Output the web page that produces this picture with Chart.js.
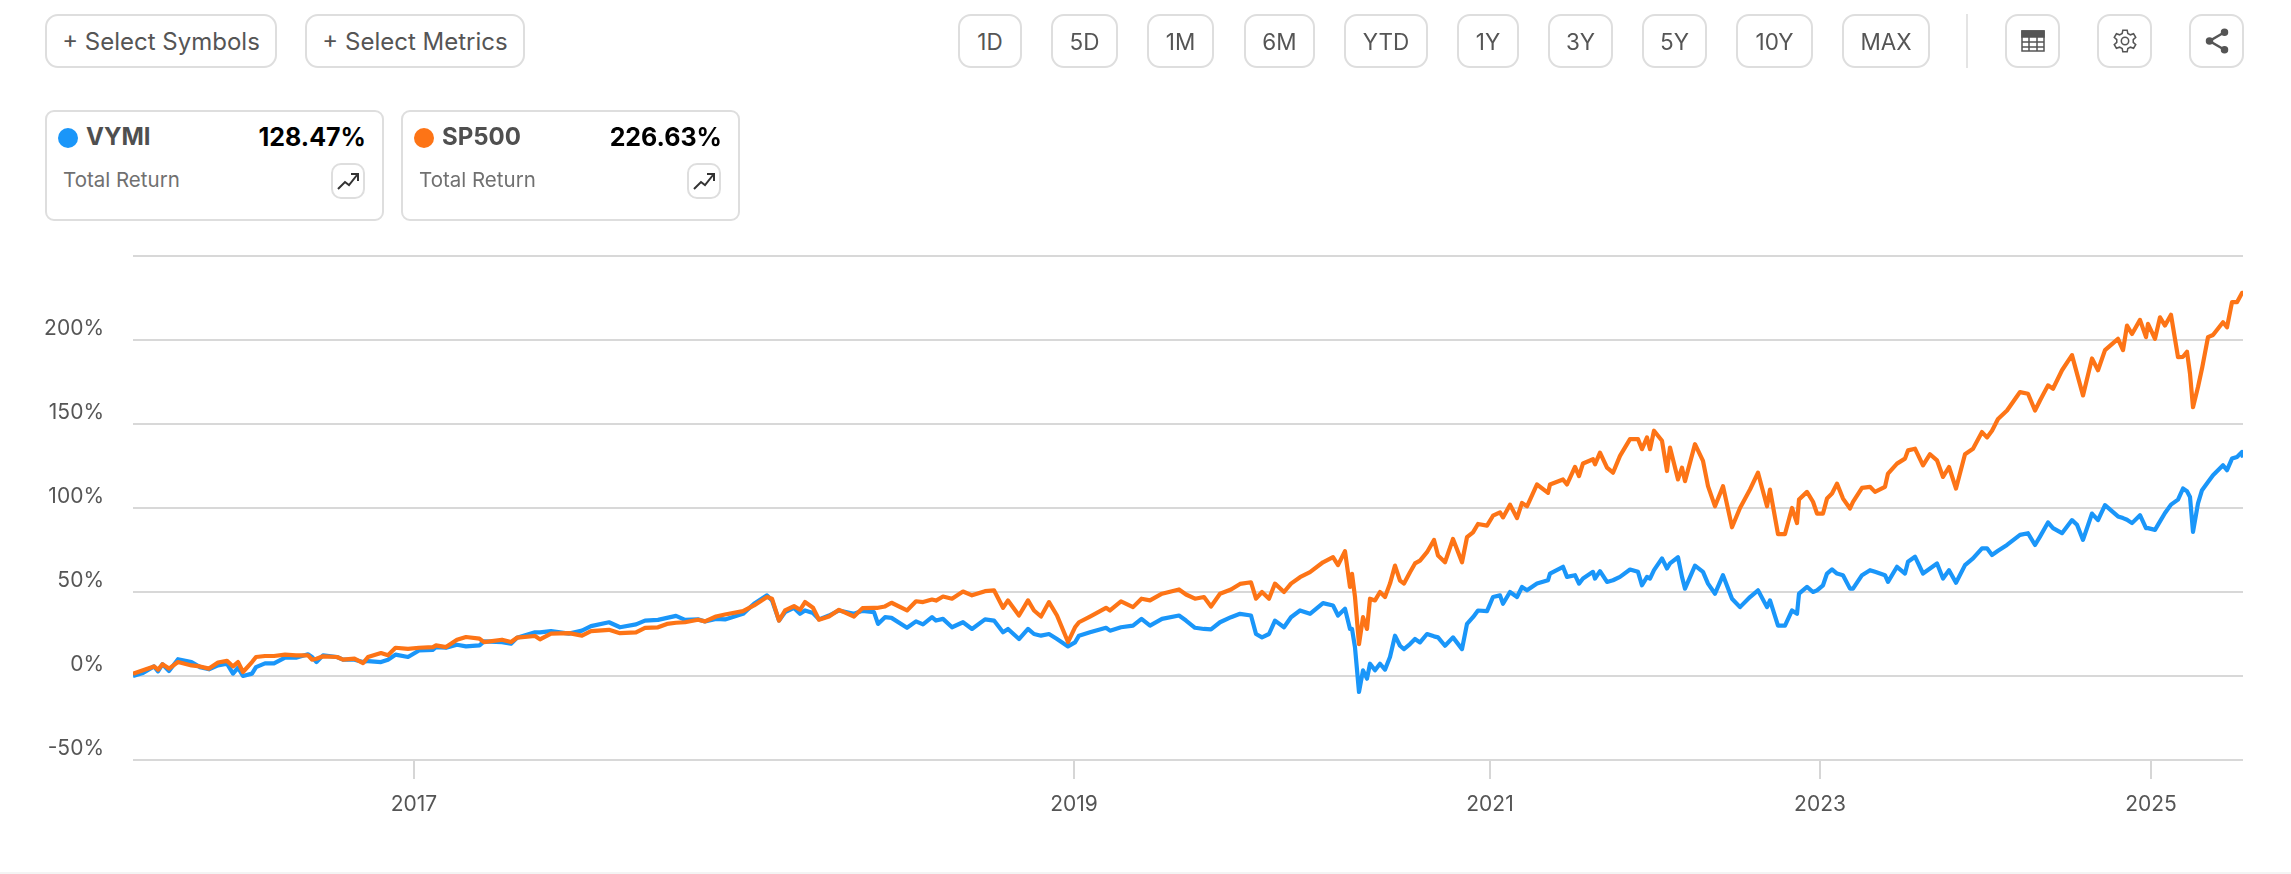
<!DOCTYPE html>
<html>
<head>
<meta charset="utf-8">
<title>VYMI vs SP500</title>
<script src="https://cdn.jsdelivr.net/npm/chart.js@4/dist/chart.umd.min.js"></script>
<style>
html, body { margin: 0; padding: 0; background: #fff; }
body { width: 2291px; height: 874px; position: relative; overflow: hidden; font-family: Inter, "Noto Sans", sans-serif; color: #555; }
#chart { position: absolute; left: 0; top: 0; }
.btn { position: absolute; top: 14px; height: 54px; box-sizing: border-box; border: 2px solid #dedede; border-radius: 13px; display: flex; align-items: center; justify-content: center; font-size: 22.5px; background: #fff; }
.big { font-size: 24px; }
.sep { position: absolute; left: 1966px; top: 14px; width: 2px; height: 54px; background: #e4e4e4; }
.rule { position: absolute; left: 0; top: 872px; width: 2291px; height: 2px; background: #f4f4f4; }
.card { position: absolute; top: 110px; height: 111px; box-sizing: border-box; border: 2px solid #dedede; border-radius: 9px; background: #fff; }
.dot { position: absolute; top: 16px; width: 20px; height: 20px; border-radius: 50%; }
.sym { position: absolute; top: 10px; font-size: 24px; font-weight: 700; color: #4f4f4f; }
.val { position: absolute; top: 10px; font-size: 25px; font-weight: 700; color: #000; }
.sub { position: absolute; top: 55px; font-size: 20.500px; color: #707070; }
.trend { position: absolute; top: 51px; width: 34px; height: 36px; box-sizing: border-box; border: 2px solid #dedede; border-radius: 10px; display: flex; align-items: center; justify-content: center; }
</style>
</head>
<body>
<canvas id="chart" width="2291" height="874"></canvas>
<div class="rule"></div>

<div class="btn big" style="left:45px;width:232px">+ Select Symbols</div>
<div class="btn big" style="left:305px;width:220px">+ Select Metrics</div>

<div class="btn" style="left:958px;width:64px">1D</div>
<div class="btn" style="left:1051px;width:67px">5D</div>
<div class="btn" style="left:1147px;width:67px">1M</div>
<div class="btn" style="left:1244px;width:71px">6M</div>
<div class="btn" style="left:1344px;width:84px">YTD</div>
<div class="btn" style="left:1457px;width:62px">1Y</div>
<div class="btn" style="left:1548px;width:65px">3Y</div>
<div class="btn" style="left:1642px;width:65px">5Y</div>
<div class="btn" style="left:1736px;width:77px">10Y</div>
<div class="btn" style="left:1842px;width:88px">MAX</div>
<div class="sep"></div>
<div class="btn" style="left:2005px;width:55px">
  <svg width="24" height="24" viewBox="0 0 24 24" fill="none" stroke="#555" stroke-width="1.5"><rect x="1" y="2" width="22" height="20"/><rect x="1" y="2" width="22" height="6" fill="#555"/><path d="M1 13h22M1 18h22M8 8v14M16 8v14"/></svg>
</div>
<div class="btn" style="left:2097px;width:55px">
  <svg width="26" height="26" viewBox="0 0 24 24" fill="none" stroke="#555" stroke-width="1.4"><circle cx="12" cy="12" r="3.4"/><path d="M10 2h4l.6 3 2.4 1.3 2.9-1 2 3.4-2.3 2 0 2.6 2.3 2-2 3.4-2.9-1-2.4 1.3-.6 3h-4l-.6-3-2.4-1.3-2.9 1-2-3.4 2.3-2 0-2.6-2.3-2 2-3.4 2.9 1L9.400 5z"/></svg>
</div>
<div class="btn" style="left:2189px;width:55px">
  <svg width="30" height="30" viewBox="0 0 24 24" fill="#555" stroke="#555" stroke-width="2"><path d="M18 5L6 12l12 7" fill="none"/><circle cx="18" cy="5" r="2"/><circle cx="6" cy="12" r="2"/><circle cx="18" cy="19" r="2"/></svg>
</div>

<div class="card" style="left:45px;width:339px">
  <div class="dot" style="left:11px;background:#1a96f9"></div>
  <div class="sym" style="left:39px">VYMI</div>
  <div class="val" style="right:16px">128.47%</div>
  <div class="sub" style="left:16px">Total Return</div>
  <div class="trend" style="right:17px"><svg width="24" height="24" viewBox="0 0 24 24" fill="none" stroke="#333" stroke-width="2"><path d="M2 20l7-7 4 3 8-10M15 5h7v7"/></svg></div>
</div>
<div class="card" style="left:401px;width:339px">
  <div class="dot" style="left:11px;background:#fd7416"></div>
  <div class="sym" style="left:39px">SP500</div>
  <div class="val" style="right:16px">226.63%</div>
  <div class="sub" style="left:16px">Total Return</div>
  <div class="trend" style="right:17px"><svg width="24" height="24" viewBox="0 0 24 24" fill="none" stroke="#333" stroke-width="2"><path d="M2 20l7-7 4 3 8-10M15 5h7v7"/></svg></div>
</div>

<script>
const sessions = [0,10,21,25,29.5,36,45,58.5,67,76,85,94,100,105,110,119,123,132,141,152,163,175,179,183.5,190,204,210,221.5,230,235,248,255,262.5,275,286,300,303,313,324,333,346.5,351,369,378,384,402,407,418,436,449,458,476,487,503,512,525,534,543,552,565,572,583,592,610,621,634,639,646,652,661,
  667,672,680,686,696,706,721,729.5,741,745,752,758.5,774,783,790,799,803,810,819,830,839,852,861,870,875,886,895,901,908,916,924,935,942,946,957,973,977,988,1000,1008.5,1017,1029,1046,1053,1062,1071,1078,1087,1098,1107,1118,1123,1129,1136,1142,1151,1158,
  1167,1177,1190,1200,1205,1212,1217,1219,1222,1226,1230,1234,1237,1242,1247,1252,1257,1262,1267,1271,1277,1282,1287,1294,1301,1305,1312,1320,1329,1334,1340,1345,1354,1360,1367,1370,1377,1384,1389,1394,1404,1415,1417,1430,1434,1442,1446,1450,1460,1462,1467,1474,1480,1487,1497,1505,1509,1514,1517,1521,1529,1534,1537,1545,1549,1552,1562,1570,1575,1582,1590,1599,1607,1617,1625,1634,1637,1645,1652,
  1659,1664,1666,1674,1680,1684,1690,1694,1699,1704,1710,1717,1720,1729,1737,1742,1752,1755,1764,1772,1775,1782,1790,1797,1804,1810,1816,1823,1832,1840,1849,1854,1859,1865,1874,1887,1895,1902,1907,1915,1920,1929,1939,1944,1950,1959,1965,1972,1985,1990,1994,1999,2007,2013,2015,2022,2027,2032,2038,2045,2050,2054,2057,2060,2065,2069,2075,2080,2090,2094,2099,2104,2109,2110];

const sp500 = [1.4,3.4,5.7,3.8,7,4.4,8.3,6.3,5.7,4.4,8,9,5.7,8.3,2.4,8.3,11.3,11.9,11.9,12.7,12.3,12.3,9.7,10.3,11.7,11.3,9.7,10.3,7.7,11.3,13.7,12.3,16.8,16.2,16.8,17.2,18.2,17.2,21.6,23.2,22.2,20.2,21.6,20.2,22.8,23.8,21.8,25.2,25.5,24,26.7,27.5,25.5,26,28.7,29,31,31.7,32,33.5,32.5,35.4,36.6,38.6,42,47,46,33,39,41.6,
  39.4,44,40.6,33.5,35.4,39.4,35.4,40.4,40.6,40.6,41.4,43.6,39,44.5,44,45.5,44.9,47.3,46,50.3,48,50.5,51,40.6,45,36,45,39,35.4,44,36,20.2,29,32,35.4,40.6,39,44.4,41,46,45,49,51.5,48.5,46,47,41.4,49,51.5,54.8,55.8,46,50,46,55,50,55,
  58.8,61.8,67.7,70.7,66,74.3,53,60.8,47,19,35,28,46,45,50,47,55,65.7,56.8,55,61.8,67,68.7,73.7,81,71.7,67.7,81.6,67.7,82.6,85.5,90.5,89.5,95.4,97.4,94.4,102,94,103,101,114,109,114,117,114,124.5,119,126.5,129,126,133,124,121,131,141,141,135,142,135,146,140,122,136,117,124,116,138,128,113,101,113,88.5,100,111,121,101,111,84.5,84.5,
  100,91,105,109.6,103.7,96.7,96.7,105.6,108.6,114.5,105.6,99.7,103.7,112,112.6,109.6,112.6,120.5,126.4,129.4,134.3,135.3,125.4,132,128.4,118.5,124.4,111.6,132,135.3,145.2,142,146,153,158,169,168,158,164,173,171,182,191,180,167,189,182,194,200.7,194,208.6,203.6,212,201.7,209.6,200.7,213.5,208.6,215,189.8,190,193,180,160,172,183,201.7,203,210.6,207.6,222.5,222.5,228,228];

const vymi = [0,1.8,5.7,2.8,7,3,10,8.3,5.3,4,6.3,7.3,1.4,5,0,1.4,5.3,7.5,7.5,10.9,10.9,12.9,11.3,8.3,12.3,11.3,9.7,9.7,8.3,8.9,8.3,9.7,12.7,11.3,15.2,15.6,17.2,16.8,18.6,17.6,18.2,20.6,20.2,19.2,22.8,26,26,26.7,25.2,27,29.7,32,29,30.7,33,33.4,34.6,35.8,33.4,33.7,32.5,34,33.7,37,43,48,45,33,38,40.5,
  37,39,37.5,33.7,36,39,37,38.8,38,31,35,34.6,28.7,32.5,30.7,35,33,34,29,32,28,33.7,33,26,28,22,28,25,24,25,22,17.6,20,24,26,28.7,27,29,30,34,30,34,36,33,28.7,28,27.7,32,35,37,36,25,23,25,33,29,35,
  39,37,43.4,42,36,40,28,28,17,-9.5,3.4,-1.6,7.3,3.4,7.3,3.8,11.3,24,18,16,19,22,20,25,23.6,23,18,23,16,31,35,39,38.6,47,48,43,50,47,53,51,55,57,61,65,59,60,55,58,62,58,62.4,56,57,59,63.4,62,54,59,58,63,70,64,67,70.7,59,52,65.7,62,55,49,60,46,41,47,51,41,45,30,30,
  39,37,49,53,50,51,54,61,63.5,61,60,52,52,60,63,62,60,56,65,61,68,71,61,64,67,58,63,55.5,66,70,76,76,72,74.5,78,84,85,78,83,91.4,88,85,92.8,90,81,96.7,92.8,101.7,95,94,93,91,95.7,88,88,87,92,97,102,105,111.6,110,106.6,85.8,102.7,110.6,115.5,119.5,125.4,122.5,129.4,130.4,133.4,130];

const yearTicks = [281,941,1357,1687,2018];
const yearLabels = ['2017','2019','2021','2023','2025'];

const toPoints = (ys) => ys.map((y, i) => ({ x: sessions[i], y: y }));

new Chart(document.getElementById('chart'), {
  type: 'line',
  data: {
    datasets: [
      { label: 'SP500', data: toPoints(sp500), borderColor: '#fd7416', borderWidth: 4.2, borderJoinStyle: 'round', pointRadius: 0, tension: 0, order: 1 },
      { label: 'VYMI', data: toPoints(vymi), borderColor: '#1a96f9', borderWidth: 4.2, borderJoinStyle: 'round', pointRadius: 0, tension: 0, order: 2 }
    ]
  },
  options: {
    responsive: false,
    animation: false,
    layout: { padding: { left: 0, right: 48, top: 256, bottom: 55 } },
    plugins: { legend: { display: false }, tooltip: { enabled: false } },
    scales: {
      x: {
        type: 'linear',
        min: 0,
        max: 2110,
        border: { display: false },
        grid: { drawOnChartArea: false, drawTicks: true, tickLength: 19, color: '#d6d6d6', lineWidth: 2 },
        afterBuildTicks: (axis) => { axis.ticks = yearTicks.map((v) => ({ value: v })); },
        afterFit: (axis) => { axis.height = 59; },
        ticks: {
          autoSkip: false,
          maxRotation: 0,
          padding: 13,
          color: '#555',
          font: { family: 'Inter', size: 21 },
          callback: (v) => yearLabels[yearTicks.indexOf(v)]
        }
      },
      y: {
        min: -50,
        max: 250,
        border: { display: false },
        grid: { drawTicks: false, color: '#d8d8d8', lineWidth: 2 },
        afterFit: (axis) => { axis.width = 133; },
        ticks: {
          stepSize: 50,
          padding: 29,
          labelOffset: -11,
          color: '#555',
          font: { family: 'Inter', size: 21 },
          callback: (v) => (v === 250 ? '' : v + '%')
        }
      }
    }
  }
});
</script>
</body>
</html>
